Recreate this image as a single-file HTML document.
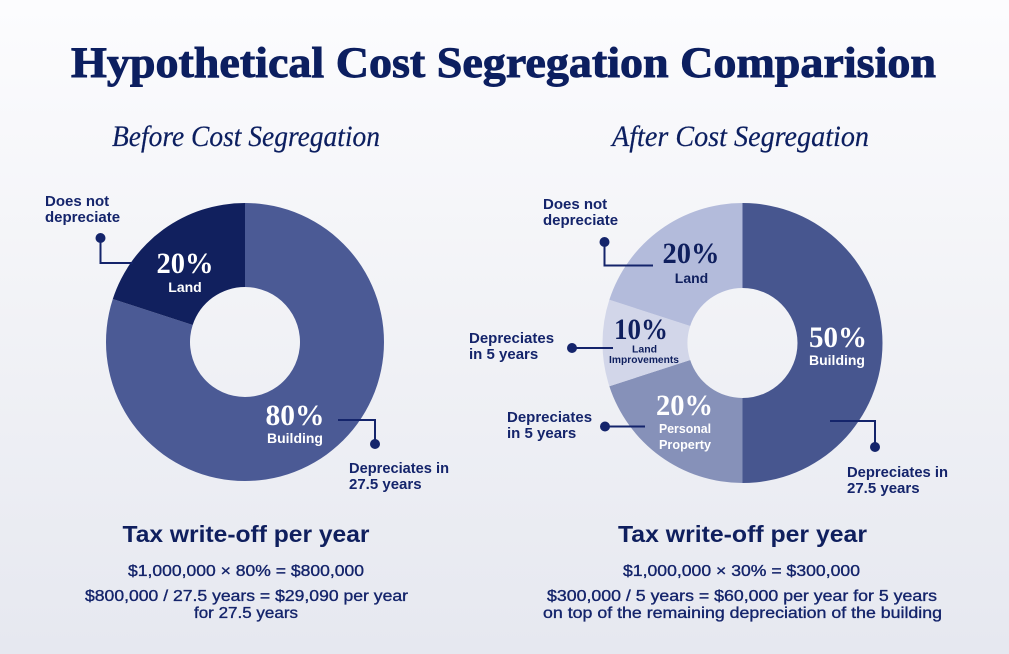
<!DOCTYPE html>
<html>
<head>
<meta charset="utf-8">
<style>
  html,body{margin:0;padding:0;width:1009px;height:654px;overflow:hidden;}
  svg{display:block;}
  .serif{font-family:"Liberation Serif",serif;}
  .sans{font-family:"Liberation Sans",sans-serif;}
</style>
</head>
<body>
<svg width="1009" height="654" viewBox="0 0 1009 654" xmlns="http://www.w3.org/2000/svg">
  <defs>
    <linearGradient id="bg" x1="0" y1="0" x2="0" y2="1">
      <stop offset="0" stop-color="#fcfcfe"/>
      <stop offset="0.5" stop-color="#f1f2f6"/>
      <stop offset="1" stop-color="#e6e8f0"/>
    </linearGradient>
  </defs>
  <rect x="0" y="0" width="1009" height="654" fill="url(#bg)"/>

  <!-- Title -->
  <text class="serif" x="71" y="77" font-size="43" font-weight="bold" fill="#0c1f60" stroke="#0c1f60" stroke-width="0.9" textLength="865" lengthAdjust="spacingAndGlyphs">Hypothetical Cost Segregation Comparision</text>

  <!-- Subtitles -->
  <text class="serif" x="112" y="146" font-size="30" font-style="italic" fill="#0c1f60" stroke="#0c1f60" stroke-width="0.2" textLength="268" lengthAdjust="spacingAndGlyphs">Before Cost Segregation</text>
  <text class="serif" x="612" y="146" font-size="30" font-style="italic" fill="#0c1f60" stroke="#0c1f60" stroke-width="0.2" textLength="257" lengthAdjust="spacingAndGlyphs">After Cost Segregation</text>

  <!-- LEFT DONUT -->
  <path d="M245,203 A139,139 0 1 1 112.8,299.05 L192.69,325 A55,55 0 1 0 245,287 Z" fill="#4b5a95"/>
  <path d="M245,203 A139,139 0 0 0 112.8,299.05 L192.69,325 A55,55 0 0 1 245,287 Z" fill="#11205e"/>

  <text class="serif" x="185" y="273" font-size="30" font-weight="bold" fill="#ffffff" text-anchor="middle" textLength="57" lengthAdjust="spacingAndGlyphs">20%</text>
  <text class="sans" x="185" y="292" font-size="14" font-weight="bold" fill="#ffffff" text-anchor="middle">Land</text>
  <text class="serif" x="295" y="425" font-size="30" font-weight="bold" fill="#ffffff" text-anchor="middle" textLength="59" lengthAdjust="spacingAndGlyphs">80%</text>
  <text class="sans" x="295" y="443" font-size="14" font-weight="bold" fill="#ffffff" text-anchor="middle">Building</text>

  <!-- left leaders -->
  <polyline points="100.5,238 100.5,263 133,263" fill="none" stroke="#14246b" stroke-width="2"/>
  <circle cx="100.5" cy="238" r="5" fill="#14246b"/>
  <text class="sans" x="45" y="206" font-size="15" font-weight="bold" fill="#14246b">Does not</text>
  <text class="sans" x="45" y="222" font-size="15" font-weight="bold" fill="#14246b">depreciate</text>

  <polyline points="338,420 375,420 375,444" fill="none" stroke="#14246b" stroke-width="2"/>
  <circle cx="375" cy="444" r="5" fill="#14246b"/>
  <text class="sans" x="349" y="473" font-size="15" font-weight="bold" fill="#14246b" textLength="100" lengthAdjust="spacingAndGlyphs">Depreciates in</text>
  <text class="sans" x="349" y="489" font-size="15" font-weight="bold" fill="#14246b">27.5 years</text>

  <!-- RIGHT DONUT -->
  <path d="M742.5,203 A140,140 0 0 1 742.5,483 L742.5,398 A55,55 0 0 0 742.5,288 Z" fill="#47568f"/>
  <path d="M742.5,483 A140,140 0 0 1 609.35,386.26 L690.19,360 A55,55 0 0 0 742.5,398 Z" fill="#8691b9"/>
  <path d="M609.35,386.26 A140,140 0 0 1 609.35,299.74 L690.19,326 A55,55 0 0 0 690.19,360 Z" fill="#d2d6e9"/>
  <path d="M609.35,299.74 A140,140 0 0 1 742.5,203 L742.5,288 A55,55 0 0 0 690.19,326 Z" fill="#b3bbdb"/>

  <text class="serif" x="691" y="263" font-size="30" font-weight="bold" fill="#0f1f5e" text-anchor="middle" textLength="57" lengthAdjust="spacingAndGlyphs">20%</text>
  <text class="sans" x="691.5" y="283" font-size="14" font-weight="bold" fill="#0f1f5e" text-anchor="middle">Land</text>

  <text class="serif" x="641" y="339" font-size="30" font-weight="bold" fill="#0f1f5e" text-anchor="middle" textLength="54" lengthAdjust="spacingAndGlyphs">10%</text>
  <text class="sans" x="644.5" y="352.5" font-size="10.5" font-weight="bold" fill="#0f1f5e" text-anchor="middle">Land</text>
  <text class="sans" x="644" y="363" font-size="10.5" font-weight="bold" fill="#0f1f5e" text-anchor="middle" textLength="70" lengthAdjust="spacingAndGlyphs">Improvements</text>

  <text class="serif" x="684.5" y="415" font-size="30" font-weight="bold" fill="#ffffff" text-anchor="middle" textLength="57" lengthAdjust="spacingAndGlyphs">20%</text>
  <text class="sans" x="685" y="433" font-size="13" font-weight="bold" fill="#ffffff" text-anchor="middle" textLength="52" lengthAdjust="spacingAndGlyphs">Personal</text>
  <text class="sans" x="685" y="449" font-size="13" font-weight="bold" fill="#ffffff" text-anchor="middle" textLength="52" lengthAdjust="spacingAndGlyphs">Property</text>

  <text class="serif" x="838" y="347" font-size="30" font-weight="bold" fill="#ffffff" text-anchor="middle" textLength="58" lengthAdjust="spacingAndGlyphs">50%</text>
  <text class="sans" x="837" y="365" font-size="14" font-weight="bold" fill="#ffffff" text-anchor="middle">Building</text>

  <!-- right leaders -->
  <polyline points="604.5,242 604.5,265.5 653,265.5" fill="none" stroke="#14246b" stroke-width="2"/>
  <circle cx="604.5" cy="242" r="5" fill="#14246b"/>
  <text class="sans" x="543" y="209" font-size="15" font-weight="bold" fill="#14246b">Does not</text>
  <text class="sans" x="543" y="225" font-size="15" font-weight="bold" fill="#14246b">depreciate</text>

  <line x1="572" y1="348" x2="613" y2="348" stroke="#14246b" stroke-width="2"/>
  <circle cx="572" cy="348" r="5" fill="#14246b"/>
  <text class="sans" x="469" y="343" font-size="15" font-weight="bold" fill="#14246b">Depreciates</text>
  <text class="sans" x="469" y="359" font-size="15" font-weight="bold" fill="#14246b">in 5 years</text>

  <line x1="605" y1="426.5" x2="645" y2="426.5" stroke="#14246b" stroke-width="2"/>
  <circle cx="605" cy="426.5" r="5" fill="#14246b"/>
  <text class="sans" x="507" y="422" font-size="15" font-weight="bold" fill="#14246b">Depreciates</text>
  <text class="sans" x="507" y="438" font-size="15" font-weight="bold" fill="#14246b">in 5 years</text>

  <polyline points="830,421 875,421 875,447" fill="none" stroke="#14246b" stroke-width="2"/>
  <circle cx="875" cy="447" r="5" fill="#14246b"/>
  <text class="sans" x="847" y="477" font-size="15" font-weight="bold" fill="#14246b" textLength="101" lengthAdjust="spacingAndGlyphs">Depreciates in</text>
  <text class="sans" x="847" y="493" font-size="15" font-weight="bold" fill="#14246b">27.5 years</text>

  <!-- Bottom left -->
  <text class="sans" x="246" y="542" font-size="23" font-weight="bold" fill="#0f1f5e" text-anchor="middle" textLength="247" lengthAdjust="spacingAndGlyphs">Tax write-off per year</text>
  <text class="sans" x="246" y="576" font-size="16" fill="#14246b" stroke="#14246b" stroke-width="0.35" text-anchor="middle" textLength="236" lengthAdjust="spacingAndGlyphs">$1,000,000 × 80% = $800,000</text>
  <text class="sans" x="246.5" y="601" font-size="16" fill="#14246b" stroke="#14246b" stroke-width="0.35" text-anchor="middle" textLength="323" lengthAdjust="spacingAndGlyphs">$800,000 / 27.5 years = $29,090 per year</text>
  <text class="sans" x="246" y="618" font-size="16" fill="#14246b" stroke="#14246b" stroke-width="0.35" text-anchor="middle" textLength="104" lengthAdjust="spacingAndGlyphs">for 27.5 years</text>

  <!-- Bottom right -->
  <text class="sans" x="742.5" y="542" font-size="23" font-weight="bold" fill="#0f1f5e" text-anchor="middle" textLength="249" lengthAdjust="spacingAndGlyphs">Tax write-off per year</text>
  <text class="sans" x="741.5" y="576" font-size="16" fill="#14246b" stroke="#14246b" stroke-width="0.35" text-anchor="middle" textLength="237" lengthAdjust="spacingAndGlyphs">$1,000,000 × 30% = $300,000</text>
  <text class="sans" x="742" y="601" font-size="16" fill="#14246b" stroke="#14246b" stroke-width="0.35" text-anchor="middle" textLength="390" lengthAdjust="spacingAndGlyphs">$300,000 / 5 years = $60,000 per year for 5 years</text>
  <text class="sans" x="742.5" y="618" font-size="16" fill="#14246b" stroke="#14246b" stroke-width="0.35" text-anchor="middle" textLength="399" lengthAdjust="spacingAndGlyphs">on top of the remaining depreciation of the building</text>
</svg>
</body>
</html>
